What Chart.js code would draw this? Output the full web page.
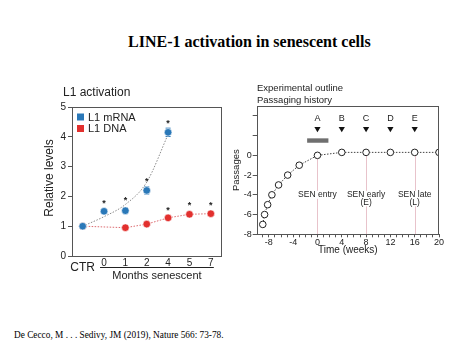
<!DOCTYPE html>
<html><head><meta charset="utf-8">
<script src="https://cdn.jsdelivr.net/npm/chart.js@4.4.0/dist/chart.umd.min.js"></script>
<style>
html,body{margin:0;padding:0;background:#fff;width:474px;height:355px;overflow:hidden;}
#title{position:absolute;left:128px;top:33px;line-height:16px;white-space:nowrap;font:bold 16px "Liberation Serif","Times New Roman",serif;color:#000;}
#foot{position:absolute;left:14px;top:330px;line-height:10px;white-space:nowrap;font:9.3px "Liberation Serif","Times New Roman",serif;color:#000;}
#c1{position:absolute;left:0;top:80px;}
#c2{position:absolute;left:230px;top:80px;}
</style></head><body>
<div id="title">LINE-1 activation in senescent cells</div>
<div id="foot">De Cecco, M . . . Sedivy, JM (2019), Nature 566: 73-78.</div>
<canvas id="c1" width="230" height="210"></canvas>
<canvas id="c2" width="244" height="190"></canvas>
<script>
// ---------- Data: left chart (L1 activation) ----------
const cats = ['CTR','0','1','2','4','5','7'];
const mrna = [1.0, 1.5, 1.52, 2.2, 4.15, null, null];
const mrnaErr = [0.04, 0.07, 0.1, 0.12, 0.14, null, null];
const dna = [1.0, null, 0.95, 1.07, 1.28, 1.4, 1.42];
const dnaErr = [0.04, null, 0.04, 0.04, 0.06, 0.07, 0.05];
const mrnaFit = [1.0, 1.32, 1.73, 2.48, 4.08, null, null];
const mrnaStars = [null, 1.82, 1.92, 2.55, 4.5, null, null];
const dnaStars = [null, null, null, null, 1.6, 1.75, 1.77];
const seriesNames = ['L1 mRNA', 'L1 DNA'];

// ---------- Data: right chart (Passaging history) ----------
const weeks = [-9.0, -8.7, -8.2, -7.5, -6.4, -4.9, -3.0, 0, 4, 8, 12, 16, 20];
const passages = [-7, -6, -5, -4, -3, -2, -1, 0, 0.3, 0.3, 0.3, 0.3, 0.3];
const sampleLabels = ['A', 'B', 'C', 'D', 'E'];
const sampleWeeks = [0, 4, 8, 12, 16];
const xTicks2 = [-8, -4, 0, 4, 8, 12, 16, 20];
const senWeeks = [0, 8, 16];
const senLabels = [['SEN entry'], ['SEN early', '(E)'], ['SEN late', '(L)']];
const barWeeks = [-1.7, 1.8];

const SANS = '"Liberation Sans", Arial, Helvetica, sans-serif';
const BLUE = '#2a78b8', RED = '#e2302e';

function frame(chart){
  const a = chart.chartArea, ctx = chart.ctx;
  ctx.save();
  ctx.strokeStyle = '#555'; ctx.lineWidth = 1;
  ctx.strokeRect(Math.round(a.left)+0.5, Math.round(a.top)+0.5, Math.round(a.right-a.left)-1, Math.round(a.bottom-a.top));
  ctx.restore();
}

const decor1 = {
  id: 'decor1',
  beforeDatasetsDraw(chart){
    const ctx = chart.ctx, x = chart.scales.x, y = chart.scales.y;
    ctx.save(); ctx.lineWidth = 1;
    [[mrna, mrnaErr, BLUE], [dna, dnaErr, RED]].forEach(([v, e, c]) => {
      ctx.strokeStyle = c;
      v.forEach((val, i) => {
        if (val == null || e[i] == null) return;
        const px = x.getPixelForValue(i), t = y.getPixelForValue(val + e[i]), b = y.getPixelForValue(val - e[i]);
        ctx.beginPath();
        ctx.moveTo(px, t); ctx.lineTo(px, b);
        ctx.moveTo(px-2.5, t); ctx.lineTo(px+2.5, t);
        ctx.moveTo(px-2.5, b); ctx.lineTo(px+2.5, b);
        ctx.stroke();
      });
    });
    ctx.restore();
  },
  afterDraw(chart){
    const ctx = chart.ctx, x = chart.scales.x, y = chart.scales.y, a = chart.chartArea;
    frame(chart);
    ctx.save();
    ctx.fillStyle = '#222';
    // stars
    ctx.font = 'bold 9px ' + SANS; ctx.textAlign = 'center'; ctx.textBaseline = 'middle';
    [mrnaStars, dnaStars].forEach(arr => arr.forEach((v, i) => {
      if (v == null) return;
      ctx.fillText('*', x.getPixelForValue(i), y.getPixelForValue(v) + 2);
    }));
    // legend
    ctx.font = '11px ' + SANS; ctx.textAlign = 'left';
    [BLUE, RED].forEach((c, k) => {
      const cy = a.top + 10 + k * 11.5;
      ctx.fillStyle = c; ctx.fillRect(a.left + 5, cy - 3.5, 7, 7);
      ctx.fillStyle = '#222'; ctx.fillText(seriesNames[k], a.left + 16, cy + 0.5);
    });
    // title
    ctx.font = '12px ' + SANS; ctx.fillText('L1 activation', 63, 13);
    // y title
    ctx.save(); ctx.translate(50, 98); ctx.rotate(-Math.PI/2); ctx.textAlign = 'center';
    ctx.font = '12px ' + SANS; ctx.fillText('Relative levels', 0, 0); ctx.restore();
    // CTR label + underline + axis caption
    ctx.textAlign = 'center';
    ctx.font = '12px ' + SANS; ctx.fillText(cats[0], x.getPixelForValue(0), a.bottom + 12);
    const x1 = x.getPixelForValue(1) - 4, x2 = x.getPixelForValue(cats.length - 1) + 3;
    ctx.strokeStyle = '#222'; ctx.lineWidth = 1;
    ctx.beginPath(); ctx.moveTo(x1, a.bottom + 11.5); ctx.lineTo(x2, a.bottom + 11.5); ctx.stroke();
    ctx.font = '11px ' + SANS; ctx.fillText('Months senescent', (x1 + x2) / 2, a.bottom + 20);
    ctx.restore();
  }
};

new Chart(document.getElementById('c1'), {
  type: 'line',
  data: {
    labels: cats,
    datasets: [
      { label: seriesNames[0], data: mrna, showLine: false, order: 0,
        pointRadius: 3.8, pointBackgroundColor: BLUE, pointBorderColor: '#ffffff', pointBorderWidth: 0.6 },
      { label: seriesNames[1], data: dna, spanGaps: true, order: 1,
        borderColor: 'rgba(215,90,95,0.9)', borderWidth: 1, borderDash: [1.5, 1.5],
        pointRadius: 3.8, pointBackgroundColor: RED, pointBorderColor: '#ffffff', pointBorderWidth: 0.6 },
      { label: 'fit', data: mrnaFit, order: 2, cubicInterpolationMode: 'monotone',
        borderColor: '#8a8a8a', borderWidth: 1, borderDash: [1.5, 1.5], pointRadius: 0 }
    ]
  },
  options: {
    responsive: false, animation: false,
    layout: { padding: { left: 0, right: 8.5, top: 27, bottom: 0 } },
    plugins: { legend: { display: false }, tooltip: { enabled: false } },
    scales: {
      x: { type: 'category', offset: true,
        grid: { display: false, drawTicks: false }, border: { display: false },
        ticks: { font: { family: SANS, size: 10 }, color: '#222', padding: 1, autoSkip: false, maxRotation: 0,
          callback: (v, i) => i === 0 ? '' : cats[i] },
        afterFit(s){ s.height = 34; } },
      y: { min: 0, max: 5,
        grid: { drawOnChartArea: false, drawTicks: true, tickLength: 4, color: '#555' }, border: { display: false },
        ticks: { stepSize: 1, font: { family: SANS, size: 10 }, color: '#222', padding: 2 },
        afterFit(s){ s.width = 72; } }
    }
  },
  plugins: [decor1]
});

// ---------- right chart ----------
const decor2 = {
  id: 'decor2',
  beforeDatasetsDraw(chart){
    const ctx = chart.ctx, x = chart.scales.x, y = chart.scales.y, a = chart.chartArea;
    ctx.save();
    ctx.strokeStyle = '#e8c3cb'; ctx.lineWidth = 1;
    senWeeks.forEach(w => {
      const px = Math.round(x.getPixelForValue(w)) + 0.5;
      ctx.beginPath(); ctx.moveTo(px, y.getPixelForValue(0)); ctx.lineTo(px, a.bottom); ctx.stroke();
    });
    ctx.font = '8.5px ' + SANS; ctx.textAlign = 'center'; ctx.textBaseline = 'middle';
    senWeeks.forEach((w, k) => {
      const px = x.getPixelForValue(w), py = y.getPixelForValue(-4);
      senLabels[k].forEach((t, j) => {
        const wd = ctx.measureText(t).width;
        ctx.fillStyle = '#fff'; ctx.fillRect(px - wd/2 - 1, py + j*7.5 - 4, wd + 2, 8);
        ctx.fillStyle = '#222'; ctx.fillText(t, px, py + j * 7.5);
      });
    });
    // grey bar
    ctx.fillStyle = '#6f6f6f';
    const by = y.getPixelForValue(1.5);
    ctx.fillRect(x.getPixelForValue(barWeeks[0]), by - 2.2, x.getPixelForValue(barWeeks[1]) - x.getPixelForValue(barWeeks[0]), 4.4);
    ctx.restore();
  },
  afterDraw(chart){
    const ctx = chart.ctx, x = chart.scales.x, y = chart.scales.y, a = chart.chartArea;
    frame(chart);
    ctx.save();
    ctx.fillStyle = '#222'; ctx.textBaseline = 'middle';
    ctx.font = '9px ' + SANS; ctx.textAlign = 'center';
    sampleLabels.forEach((t, i) => ctx.fillText(t, x.getPixelForValue(sampleWeeks[i]), y.getPixelForValue(3.7)));
    ctx.textAlign = 'left'; ctx.font = '9.5px ' + SANS;
    ctx.fillText('Experimental outline', 27, 8);
    ctx.fillText('Passaging history', 27, 20);
    ctx.textAlign = 'center'; ctx.font = '10px ' + SANS;
    ctx.fillText('Time (weeks)', (a.left + a.right) / 2, a.bottom + 16);
    ctx.save(); ctx.translate(6.5, (a.top + a.bottom) / 2); ctx.rotate(-Math.PI/2);
    ctx.font = '9.5px ' + SANS; ctx.fillText('Passages', 0, 0); ctx.restore();
    ctx.restore();
  }
};

new Chart(document.getElementById('c2'), {
  type: 'scatter',
  data: {
    datasets: [
      { data: weeks.map((w, i) => ({ x: w, y: passages[i] })), showLine: true, order: 1,
        borderColor: '#444', borderWidth: 1, borderDash: [1.5, 1.5],
        pointRadius: 3.3, pointBackgroundColor: '#fff', pointBorderColor: '#222', pointBorderWidth: 1 },
      { data: sampleWeeks.map(w => ({ x: w, y: 2.7 })), showLine: false, order: 0,
        pointStyle: 'triangle', rotation: 180, pointRadius: 3.6,
        pointBackgroundColor: '#111', pointBorderColor: '#111', pointBorderWidth: 0 }
    ]
  },
  options: {
    responsive: false, animation: false,
    layout: { padding: { left: 0, right: 35, top: 26, bottom: 0 } },
    plugins: { legend: { display: false }, tooltip: { enabled: false } },
    scales: {
      x: { type: 'linear', min: -10, max: 20,
        afterBuildTicks(s){ const t = []; for (let v = -9; v <= 20; v++) t.push({ value: v }); s.ticks = t; },
        grid: { drawOnChartArea: false, drawTicks: true, tickLength: 3, color: '#555' }, border: { display: false },
        ticks: { font: { family: SANS, size: 9 }, color: '#222', padding: 0, autoSkip: false, maxRotation: 0,
          callback: v => xTicks2.includes(v) ? String(v) : '' },
        afterFit(s){ s.height = 35.7; } },
      y: { min: -8, max: 5,
        afterBuildTicks(s){ const t = []; for (let v = -8; v <= 5; v++) t.push({ value: v }); s.ticks = t; },
        grid: { drawOnChartArea: false, drawTicks: true, tickLength: 4, color: '#555' }, border: { display: false },
        ticks: { font: { family: SANS, size: 9 }, color: '#222', padding: 1,
          callback: v => (v <= 0 && v % 2 === 0) ? String(v) : '' },
        afterFit(s){ s.width = 26.7; } }
    }
  },
  plugins: [decor2]
});
</script>
</body></html>
